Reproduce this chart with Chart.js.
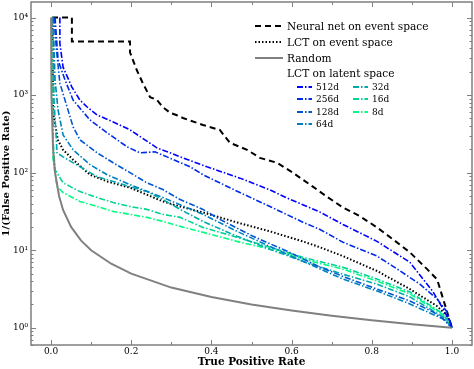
<!DOCTYPE html>
<html>
<head>
<meta charset="utf-8">
<script src="https://cdn.jsdelivr.net/npm/chart.js@4.4.0/dist/chart.umd.min.js"></script>
<style>
  body { margin: 0; background: #fff; }
  #wrap { position: relative; width: 474px; height: 369px; }
  #legend { position: absolute; left: 250px; top: 18px; font-family: "DejaVu Serif", serif; color: #000; }
  .row { position: absolute; white-space: nowrap; display: flex; align-items: center; }
  .big { font-size: 10.6px; }
  .small { font-size: 9px; }
  .row svg { margin-right: 4px; }
</style>
</head>
<body>
<div id="wrap">
  <canvas id="myChart" width="474" height="369"></canvas>
  <div id="legend"></div>
</div>
<script>
// Datos (TPR -> 1/FPR)
const nnX = [0.0025, 0.052, 0.052, 0.197, 0.197, 0.214, 0.229, 0.247, 0.264, 0.279, 0.297, 0.314, 0.329, 0.379, 0.421, 0.446, 0.489, 0.521, 0.564, 0.603, 0.653, 0.688, 0.728, 0.771, 0.813, 0.853, 0.895, 0.938, 0.963, 0.988, 1.0];
const nnY = [10000, 10000, 4900, 4900, 3550, 2090, 1420, 940, 867, 700, 590, 550, 507, 412, 355, 243, 197, 155, 134, 100, 66, 49, 35.6, 27.3, 19.7, 13.8, 9.4, 5.7, 4.2, 1.6, 1.0];

const lctX = [0.003, 0.005, 0.017, 0.030, 0.055, 0.097, 0.140, 0.197, 0.239, 0.279, 0.322, 0.379, 0.464, 0.546, 0.628, 0.671, 0.728, 0.813, 0.895, 0.963, 0.988, 1.0];
const lctY = [10000, 600, 265, 197, 147, 94, 77, 64, 52, 42.5, 36.6, 30.7, 22.8, 17.5, 13.0, 10.9, 8.4, 5.4, 3.16, 1.9, 1.42, 1.0];

const randX = [0.0001, 0.001, 0.005, 0.01, 0.02, 0.03, 0.05, 0.075, 0.1, 0.15, 0.2, 0.3, 0.4, 0.5, 0.6, 0.7, 0.8, 0.9, 1.0];
const randY = [10000, 1000, 200, 100, 50, 33, 20, 13.3, 10, 6.7, 5, 3.3, 2.5, 2, 1.67, 1.43, 1.25, 1.11, 1.0];

const x512 = [0.022, 0.022, 0.030, 0.052, 0.072, 0.090, 0.115, 0.155, 0.197, 0.264, 0.322, 0.389, 0.471, 0.546, 0.589, 0.671, 0.728, 0.813, 0.895, 0.953, 0.978, 0.995, 1.0];
const y512 = [10000, 4640, 2290, 1267, 863, 702, 554, 451, 356, 209, 160, 119, 85, 60, 47, 31, 21.5, 13.0, 7.0, 2.9, 1.75, 1.19, 1.0];

const x256 = [0.010, 0.0175, 0.035, 0.055, 0.097, 0.140, 0.190, 0.222, 0.259, 0.347, 0.379, 0.471, 0.546, 0.628, 0.671, 0.728, 0.813, 0.853, 0.920, 0.963, 0.988, 1.0];
const y256 = [10000, 2810, 1560, 863, 478, 326, 215, 180, 186, 119, 94, 55.4, 36.6, 23, 18.5, 12.7, 8.4, 6.2, 3.66, 2.35, 1.6, 1.0];

const x128 = [0.0075, 0.0125, 0.022, 0.040, 0.055, 0.072, 0.115, 0.155, 0.197, 0.239, 0.279, 0.322, 0.379, 0.421, 0.504, 0.589, 0.671, 0.728, 0.813, 0.895, 0.953, 0.978, 1.0];
const y128 = [10000, 4375, 1425, 702, 389, 265, 180, 134, 100, 74, 60.5, 45, 33.6, 25, 15.1, 9.7, 6.05, 4.6, 3.16, 2.22, 1.6, 1.3, 1.0];

const x64 = [0.005, 0.010, 0.0175, 0.030, 0.055, 0.097, 0.140, 0.197, 0.279, 0.379, 0.464, 0.546, 0.628, 0.728, 0.813, 0.895, 0.978, 1.0];
const y64 = [10000, 1560, 642, 307, 197, 127, 94, 70, 47.8, 29, 17.5, 11.2, 7.2, 4.25, 2.98, 2.03, 1.3, 1.0];

const x32 = [0.005, 0.0075, 0.015, 0.030, 0.072, 0.115, 0.155, 0.197, 0.239, 0.279, 0.322, 0.379, 0.464, 0.546, 0.628, 0.728, 0.813, 0.895, 0.978, 1.0];
const y32 = [10000, 863, 180, 160, 119, 89, 77, 66, 57, 45, 33.6, 23.5, 15.1, 10.3, 7.2, 4.9, 3.66, 2.5, 1.38, 1.0];

const x16 = [0.004, 0.005, 0.010, 0.030, 0.072, 0.115, 0.155, 0.197, 0.239, 0.279, 0.322, 0.379, 0.464, 0.546, 0.628, 0.728, 0.813, 0.895, 0.978, 1.0];
const y16 = [10000, 265, 109, 74, 57, 47.8, 41.2, 36.6, 33.6, 29, 26.5, 19.7, 14.7, 10.9, 8.1, 6.05, 4.25, 2.9, 1.51, 1.0];

const x8 = [0.003, 0.005, 0.015, 0.030, 0.072, 0.115, 0.155, 0.197, 0.239, 0.279, 0.322, 0.379, 0.464, 0.546, 0.628, 0.728, 0.813, 0.895, 0.978, 1.0];
const y8 = [10000, 147, 66, 55.4, 42.5, 36.6, 31.6, 29, 26.5, 23.5, 20.3, 17, 13, 10.3, 7.7, 5.7, 4.0, 2.73, 1.47, 1.0];

const latentLabels = ['512d', '256d', '128d', '64d', '32d', '16d', '8d'];
const latentColors = ['#0000ff', '#002aea', '#0055d4', '#0080bf', '#00aaaa', '#00d494', '#00ff80'];
const xTicks = [0, 0.2, 0.4, 0.6, 0.8, 1.0];
const yTicks = [1, 10, 100, 1000, 10000];
const supers = ['\u2070', '\u00b9', '\u00b2', '\u00b3', '\u2074'];

function pts(xs, ys) {
    return xs.map((x, i) => ({ x: x, y: ys[i] }));
}

const latentData = [[x512, y512], [x256, y256], [x128, y128], [x64, y64], [x32, y32], [x16, y16], [x8, y8]];
const dashDot = [6, 2, 1.5, 2];

var datasets = [];
// primero el aleatorio (queda debajo)
datasets.push({ label: 'Random', data: pts(randX, randY), borderColor: '#808080', borderWidth: 2 });
latentData.forEach((d, i) => {
    datasets.push({ label: latentLabels[i], data: pts(d[0], d[1]), borderColor: latentColors[i], borderWidth: 1.6, borderDash: dashDot });
});
datasets.push({ label: 'LCT on event space', data: pts(lctX, lctY), borderColor: '#000', borderWidth: 2, borderDash: [1.5, 2] });
datasets.push({ label: 'Neural net on event space', data: pts(nnX, nnY), borderColor: '#000', borderWidth: 2, borderDash: [6, 4] });

// marco y ticks hacia adentro
const framePlugin = {
    id: 'frame',
    afterDraw(chart) {
        const c = chart.ctx, a = chart.chartArea;
        const xs = chart.scales.x, ys = chart.scales.y;
        c.save();
        c.strokeStyle = '#7f7f7f';
        c.lineWidth = 1;
        // ticks x
        for (let v = 0; v <= 10; v++) {
            const px = Math.round(xs.getPixelForValue(v / 10)) + 0.5;
            const len = v % 2 === 0 ? 5 : 3;
            c.beginPath();
            c.moveTo(px, a.bottom); c.lineTo(px, a.bottom - len);
            c.moveTo(px, a.top); c.lineTo(px, a.top + len);
            c.stroke();
        }
        // ticks y (log)
        for (let e = -1; e <= 4; e++) {
            for (let m = 1; m <= 9; m++) {
                const v = m * Math.pow(10, e);
                if (v < ys.min || v > ys.max) continue;
                const py = Math.round(ys.getPixelForValue(v)) + 0.5;
                const len = m === 1 ? 5 : 2.5;
                c.beginPath();
                c.moveTo(a.left, py); c.lineTo(a.left + len, py);
                c.moveTo(a.right, py); c.lineTo(a.right - len, py);
                c.stroke();
            }
        }
        c.lineWidth = 1.5;
        c.strokeRect(a.left, a.top, a.right - a.left, a.bottom - a.top);
        c.restore();
    }
};

document.addEventListener('DOMContentLoaded', function () {
    var ctx = document.getElementById('myChart').getContext('2d');
    Chart.defaults.font.family = '"DejaVu Serif", serif';
    Chart.defaults.color = '#000';

    new Chart(ctx, {
        type: 'line',
        data: { datasets: datasets },
        options: {
            responsive: false,
            animation: false,
            layout: { padding: { top: 2, right: 2, left: 0, bottom: 0 } },
            elements: { point: { radius: 0 }, line: { tension: 0, fill: false } },
            plugins: { legend: { display: false }, tooltip: { enabled: false } },
            scales: {
                x: {
                    type: 'linear', min: -0.05, max: 1.05,
                    afterBuildTicks: s => { s.ticks = xTicks.map(v => ({ value: v })); },
                    afterFit: s => { s.height = 24; s.paddingLeft = 0; s.paddingRight = 0; },
                    ticks: { callback: v => v.toFixed(1), font: { size: 9 }, padding: 1, maxRotation: 0 },
                    grid: { display: false, drawTicks: false },
                    border: { display: false },
                    title: { display: true, text: 'True Positive Rate', font: { size: 10.5, weight: 'bold' }, padding: 0 }
                },
                y: {
                    type: 'logarithmic', min: 0.63, max: 15850,
                    afterBuildTicks: s => { s.ticks = yTicks.map(v => ({ value: v })); },
                    afterFit: s => { s.width = 31; s.paddingTop = 0; s.paddingBottom = 0; },
                    ticks: { callback: (v) => '10' + supers[Math.round(Math.log10(v))], font: { size: 9 }, padding: 3 },
                    grid: { display: false, drawTicks: false },
                    border: { display: false },
                    title: { display: true, text: '1/(False Positive Rate)', font: { size: 10, weight: 'bold' }, padding: 0 }
                }
            }
        },
        plugins: [framePlugin]
    });

    // leyenda en HTML
    var legend = document.getElementById('legend');
    function sample(color, dash, w, len) {
        return '<svg width="' + len + '" height="8"><line x1="0" y1="4" x2="' + len + '" y2="4" stroke="' + color +
            '" stroke-width="' + w + '" stroke-dasharray="' + dash + '"/></svg>';
    }
    var mains = [
        ['Neural net on event space', '#000', '6,4', 2, 9],
        ['LCT on event space', '#000', '1.5,2', 2, 25],
        ['Random', '#808080', '', 2, 41]
    ];
    mains.forEach(m => {
        var r = document.createElement('div');
        r.className = 'row big';
        r.style.left = '5px';
        r.style.top = (m[4] - 7) + 'px';
        r.innerHTML = sample(m[1], m[2], m[3], 28) + '<span>' + m[0] + '</span>';
        legend.appendChild(r);
    });
    var t = document.createElement('div');
    t.className = 'row big';
    t.style.left = '37px';
    t.style.top = '49px';
    t.textContent = 'LCT on latent space';
    legend.appendChild(t);
    latentLabels.forEach((lab, i) => {
        var col = i < 4 ? 0 : 1;
        var rowI = i < 4 ? i : i - 4;
        var r = document.createElement('div');
        r.className = 'row small';
        r.style.left = (col === 0 ? 47 : 103) + 'px';
        r.style.top = (64 + rowI * 12.3) + 'px';
        r.innerHTML = sample(latentColors[i], '6,2,1.5,2', 1.8, 15) + '<span>' + lab + '</span>';
        legend.appendChild(r);
    });
});
</script>
</body>
</html>
